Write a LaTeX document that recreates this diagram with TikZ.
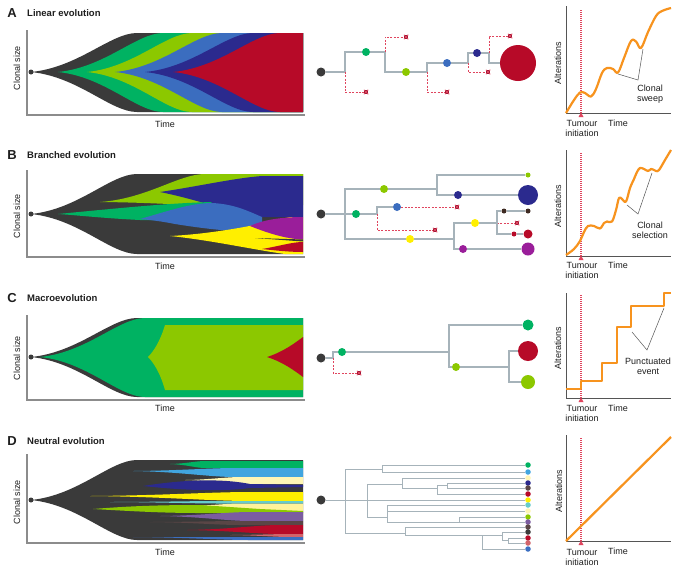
\documentclass[tikz,border=0pt]{standalone}
\usepackage{fontspec}
\setmainfont{Liberation Sans}
\usetikzlibrary{backgrounds}
\definecolor{dk}{HTML}{3A3A3A}
\definecolor{gr}{HTML}{00B262}
\definecolor{yg}{HTML}{8CC800}
\definecolor{bl}{HTML}{3B6DBF}
\definecolor{db}{HTML}{2B2A8E}
\definecolor{rd}{HTML}{B70A28}
\definecolor{ye}{HTML}{FFEF00}
\definecolor{pu}{HTML}{9A1E9A}
\definecolor{tr}{HTML}{A6B3BA}
\definecolor{dr}{HTML}{E0455E}
\definecolor{xd}{HTML}{8A1030}
\definecolor{orc}{HTML}{F7931E}
\definecolor{ax}{HTML}{8C8C8C}
\definecolor{ch}{HTML}{555555}
\definecolor{txt}{HTML}{1E1E1E}
\definecolor{lb}{HTML}{41A5DF}
\definecolor{cr}{HTML}{FFF6B5}
\definecolor{cy}{HTML}{66CCCC}
\definecolor{py}{HTML}{FFF29A}
\definecolor{pm}{HTML}{7B5CA0}
\definecolor{bw}{HTML}{5A4646}
\definecolor{bt}{HTML}{3E2A22}
\definecolor{sa}{HTML}{D2646A}
\definecolor{blt}{HTML}{3B6FC2}
\newcommand\clonelens[6]{\fill[#1] (#2,#3) .. controls ({#2+0.45*(#4-#2)},{#3+0.12*(#5-#3)}) and ({#2+0.75*(#4-#2)},#5) .. (#4,#5) -- (303,#5) -- (303,#6) -- (#4,#6) .. controls ({#2+0.75*(#4-#2)},#6) and ({#2+0.45*(#4-#2)},{#3+0.12*(#6-#3)}) .. cycle;}
\begin{document}
\begin{tikzpicture}[x=1pt,y=-1pt,
  lab/.style={font=\fontsize{9}{10}\selectfont, text=txt, inner sep=0pt},
  ttl/.style={font=\bfseries\fontsize{9.5}{11}\selectfont, text=txt, anchor=west, inner sep=0pt},
  letter/.style={font=\bfseries\fontsize{13}{14}\selectfont, text=txt, inner sep=0pt},
  fishaxis/.style={draw=ax, line width=1.4pt},
  chaxis/.style={draw=ch, line width=0.9pt},
  init/.style={draw=dr, line width=1.2pt, dash pattern=on 1pt off 1pt},
  orangec/.style={draw=orc, line width=2.2pt, line join=round},
  pointer/.style={draw=ch, line width=0.5pt},
  tree/.style={draw=tr, line width=1.1pt},
  dead/.style={draw=dr, line width=0.8pt, dash pattern=on 2pt off 1.4pt},
  dot/.style={circle, inner sep=0pt, minimum size=#1},
  xm/.style={rectangle, fill=xd, minimum size=4.5pt, inner sep=0pt,
    path picture={\draw[dr, line width=0.8pt] (path picture bounding box.north west) -- (path picture bounding box.south east) (path picture bounding box.north east) -- (path picture bounding box.south west);}}
]
\useasboundingbox (0,0) rectangle (685,574);
\begin{scope}[on background layer]
\fill[white] (0,0) rectangle (685,574);
\end{scope}

% ---------------- titles ----------------
\node[letter] (LA) at (12,13) {A};
\node[ttl] (TA) at (27,13) {Linear evolution};
\node[letter] (LB) at (12,155) {B};
\node[ttl] (TB) at (27,155) {Branched evolution};
\node[letter] (LC) at (12,298) {C};
\node[ttl] (TC) at (27,298) {Macroevolution};
\node[letter] (LD) at (12,441) {D};
\node[ttl] (TD) at (27,441) {Neutral evolution};

% ---------------- Fish A ----------------
\clonelens{dk}{31}{72}{137}{33}{112}
\clonelens{gr}{58}{72}{163}{33}{112}
\clonelens{yg}{87}{72}{192}{33}{112}
\clonelens{bl}{115}{72}{222}{33}{112}
\clonelens{db}{145}{72}{253}{33}{112}
\clonelens{rd}{173}{72}{280}{33}{112}
\draw[fishaxis] (27,30) -- (27,115) -- (305,115);
\node[dot=5pt, fill=dk] (sA) at (31,72) {};
\node[lab, rotate=90] (csA) at (17,68) {Clonal size};
\node[lab] (tA) at (165,124) {Time};

% ---------------- Fish B ----------------
\clonelens{dk}{31}{214}{137}{174}{254}
\clonelens{yg}{100}{202}{205}{174}{205}
\fill[db] (160,192) .. controls (200,186) and (235,178) .. (262,176) -- (303,176) -- (303,217) -- (262,217) .. controls (235,214) and (200,200) .. cycle;
\fill[gr] (58,214) .. controls (120,208) and (170,203) .. (212,202) .. controls (200,212) and (170,222) .. (140,220) .. controls (100,218) and (75,215) .. cycle;
\fill[bl] (140,219) .. controls (165,212) and (190,203) .. (212,203) .. controls (235,204) and (250,212) .. (262,217) -- (262,232) .. controls (230,232) and (200,228) .. (175,224) .. controls (160,221) and (150,220) .. cycle;
\fill[ye] (170,236) .. controls (210,234) and (255,226) .. (290,217) -- (303,217) -- (303,254) -- (285,254) .. controls (255,250) and (210,240) .. cycle;
\fill[pu] (250,226) .. controls (265,219) and (285,217) .. (303,217) -- (303,239.5) .. controls (285,239) and (265,232) .. cycle;
\fill[dk] (255,238) -- (303,239.5) -- (303,241.5) -- cycle;
\fill[rd] (262,249) .. controls (280,246) and (292,242) .. (303,242) -- (303,252) .. controls (292,252) and (280,251) .. cycle;
\draw[fishaxis] (27,170) -- (27,257) -- (305,257);
\node[dot=5pt, fill=dk] (sB) at (31,214) {};
\node[lab, rotate=90] (csB) at (17,216) {Clonal size};
\node[lab] (tB) at (165,266) {Time};

% ---------------- Fish C ----------------
\clonelens{dk}{31}{357}{137}{318}{397}
\clonelens{gr}{40}{357}{145}{318}{397}
\fill[yg] (165,325) .. controls (160,342) and (153,352) .. (148,357) .. controls (153,362) and (160,372) .. (165,390) -- (303,390) -- (303,325) -- cycle;
\fill[rd] (267,357) .. controls (283,352) and (295,343) .. (303,337) -- (303,377) .. controls (295,371) and (283,362) .. cycle;
\draw[fishaxis] (27,315) -- (27,400) -- (305,400);
\node[dot=5pt, fill=dk] (sC) at (31,357) {};
\node[lab, rotate=90] (csC) at (17,358) {Clonal size};
\node[lab] (tC) at (165,408) {Time};

% ---------------- Fish D ----------------
\clonelens{dk}{31}{500}{137}{460}{540}
\clonelens{gr}{170}{464}{205}{461}{468}
\clonelens{lb}{133}{471}{235}{468}{477}
\clonelens{cr}{185}{480}{240}{477}{484}
\fill[db] (143,486) .. controls (180,480) and (220,478) .. (250,484) -- (303,485) -- (303,487) -- (250,488) .. controls (220,492) and (180,490) .. cycle;
\clonelens{ye}{90}{496}{250}{492}{501}
\clonelens{cy}{110}{502}{220}{501}{503.5}
\clonelens{py}{185}{506}{240}{503.5}{511}
\fill[yg] (93,509) .. controls (130,506) and (160,505) .. (200,505) -- (260,509) -- (303,511) -- (303,513) -- (200,513) .. controls (160,513) and (130,511) .. cycle;
\clonelens{pm}{160}{516}{250}{512}{521}
\clonelens{bw}{150}{522}{240}{521}{525}
\clonelens{rd}{187}{530}{280}{525}{534}
\clonelens{sa}{230}{535}{290}{534}{537}
\clonelens{blt}{133}{537}{250}{537}{540}
\draw[fishaxis] (27,454) -- (27,543) -- (305,543);
\node[dot=5pt, fill=dk] (sD) at (31,500) {};
\node[lab, rotate=90] (csD) at (17,502) {Clonal size};
\node[lab] (tD) at (165,552) {Time};

% ---------------- Tree A ----------------
\node[dot=9pt, fill=dk] (rA) at (321,72) {};
\coordinate (jA1) at (345,72);
\node[dot=8pt, fill=gr] (gA) at (366,52) {};
\node[xm] (xA1) at (366,92) {};
\coordinate (jA2) at (385,52);
\node[xm] (xA2) at (406,37) {};
\node[dot=8pt, fill=yg] (ygA) at (406,72) {};
\coordinate (jA3) at (427,72);
\node[xm] (xA3) at (447,92) {};
\node[dot=8pt, fill=bl] (bA) at (447,63) {};
\coordinate (jA4) at (468,63);
\node[dot=8pt, fill=db] (dbA) at (477,53) {};
\node[xm] (xA4) at (488,72) {};
\coordinate (jA5) at (489,53);
\node[xm] (xA5) at (510,36) {};
\node[dot=36pt, fill=rd] (rdA) at (518,63) {};
\begin{scope}[on background layer]
\draw[tree] (rA) -- (jA1) |- (gA);
\draw[tree] (gA) -- (jA2) |- (ygA);
\draw[tree] (ygA) -- (jA3) |- (bA);
\draw[tree] (bA) -- (jA4) |- (dbA);
\draw[tree] (dbA) -- (jA5) |- (rdA);
\draw[dead] (jA1) |- (xA1);
\draw[dead] (jA2) |- (xA2);
\draw[dead] (jA3) |- (xA3);
\draw[dead] (jA4) |- (xA4);
\draw[dead] (jA5) |- (xA5);
\end{scope}

% ---------------- Tree B ----------------
\node[dot=9pt, fill=dk] (rB) at (321,214) {};
\coordinate (jB1) at (345,214);
\node[dot=8pt, fill=yg] (ygB) at (384,189) {};
\coordinate (jB2) at (437,189);
\node[dot=5pt, fill=yg] (ygB2) at (528,175) {};
\node[dot=8pt, fill=db] (dbB) at (458,195) {};
\node[dot=20pt, fill=db] (dbB2) at (528,195) {};
\node[dot=8pt, fill=gr] (gB) at (356,214) {};
\coordinate (jB3) at (377,214);
\node[dot=8pt, fill=bl] (bB) at (397,207) {};
\node[xm] (xB1) at (457,207) {};
\node[xm] (xB2) at (435,230) {};
\node[dot=8pt, fill=ye] (yB) at (410,239) {};
\coordinate (jB4) at (454,239);
\node[dot=8pt, fill=ye] (yB2) at (475,223) {};
\coordinate (jB5) at (497,223);
\node[dot=5pt, fill=bt] (brB1) at (504,211) {};
\node[dot=5pt, fill=bt] (brB2) at (528,211) {};
\node[xm] (xB3) at (517,223) {};
\node[dot=5pt, fill=rd] (rdB1) at (514,234) {};
\node[dot=9pt, fill=rd] (rdB2) at (528,234) {};
\node[dot=8pt, fill=pu] (puB1) at (463,249) {};
\node[dot=13pt, fill=pu] (puB2) at (528,249) {};
\begin{scope}[on background layer]
\draw[tree] (rB) -- (jB1) -- (gB) -- (jB3);
\draw[tree] (jB1) |- (ygB);
\draw[tree] (jB1) |- (yB);
\draw[tree] (ygB) -- (jB2) |- (ygB2);
\draw[tree] (jB2) |- (dbB);
\draw[tree] (dbB) -- (dbB2);
\draw[tree] (jB3) |- (bB);
\draw[dead] (bB) -- (xB1);
\draw[dead] (jB3) |- (xB2);
\draw[tree] (yB) -- (jB4) |- (yB2);
\draw[tree] (yB2) -- (jB5) |- (brB1);
\draw[tree] (brB1) -- (brB2);
\draw[dead] (jB5) -- (xB3);
\draw[tree] (jB5) |- (rdB1);
\draw[tree] (rdB1) -- (rdB2);
\draw[tree] (jB4) |- (puB1);
\draw[tree] (puB1) -- (puB2);
\end{scope}

% ---------------- Tree C ----------------
\node[dot=9pt, fill=dk] (rC) at (321,358) {};
\coordinate (jC1) at (333,358);
\node[dot=8pt, fill=gr] (gC) at (342,352) {};
\node[xm] (xC) at (359,373) {};
\coordinate (jC2) at (449,352);
\node[dot=11pt, fill=gr] (gC2) at (528,325) {};
\node[dot=8pt, fill=yg] (ygC) at (456,367) {};
\coordinate (jC3) at (509,367);
\node[dot=20pt, fill=rd] (rdC) at (528,351) {};
\node[dot=14pt, fill=yg] (ygC2) at (528,382) {};
\begin{scope}[on background layer]
\draw[tree] (rC) -- (jC1) |- (gC);
\draw[tree] (gC) -- (jC2) |- (gC2);
\draw[tree] (jC2) |- (ygC);
\draw[tree] (ygC) -- (jC3) |- (rdC);
\draw[tree] (jC3) |- (ygC2);
\draw[dead] (jC1) |- (xC);
\end{scope}

% ---------------- Tree D ----------------
\node[dot=9pt, fill=dk] (rD) at (321,500) {};
\foreach \n/\y/\c in {1/465/gr,2/472/lb,3/478/cr,4/483/db,5/488/bw,6/494/rd,7/500/ye,8/505/cy,9/511/cr,10/517/yg,11/522/pm,12/527/bw,13/532/dk,14/538/rd,15/543/sa,16/549/blt}
  \node[dot=5.5pt, fill=\c] (L\n) at (528,\y) {};
\coordinate (jD1) at (345,500);
\coordinate (jD2) at (382,469);
\coordinate (jD3) at (367,500);
\coordinate (jD4) at (402,484);
\coordinate (jD6) at (437,488);
\coordinate (jD7) at (447,485.5);
\coordinate (jD5) at (387,517);
\coordinate (jD8) at (459,522);
\coordinate (jD9) at (405,533);
\coordinate (jD10) at (482,535);
\coordinate (jD11) at (502,535);
\coordinate (jD12) at (508,540);
\begin{scope}[on background layer, tree/.append style={line width=0.9pt}]
\draw[tree] (rD) -- (jD1) -- (jD3) -- (L7);
\draw[tree] (jD1) |- (jD2);
\draw[tree] (jD2) |- (L1);
\draw[tree] (jD2) |- (L2);
\draw[tree] (jD3) |- (jD4);
\draw[tree] (jD4) |- (L3);
\draw[tree] (jD4) |- (jD6);
\draw[tree] (jD6) |- (jD7);
\draw[tree] (jD6) |- (L6);
\draw[tree] (jD7) |- (L4);
\draw[tree] (jD7) |- (L5);
\draw[tree] (jD3) |- (jD5);
\draw[tree] (jD5) |- (L8);
\draw[tree] (jD5) |- (L9);
\draw[tree] (jD5) |- (jD8);
\draw[tree] (jD8) |- (L10);
\draw[tree] (jD8) -- (L11);
\draw[tree] (jD1) |- (jD9);
\draw[tree] (jD9) |- (L12);
\draw[tree] (jD9) |- (jD10);
\draw[tree] (jD10) |- (jD11);
\draw[tree] (jD10) |- (L16);
\draw[tree] (jD11) |- (L13);
\draw[tree] (jD11) |- (jD12);
\draw[tree] (jD12) |- (L14);
\draw[tree] (jD12) |- (L15);
\end{scope}

% ---------------- Chart A ----------------
\draw[init] (581,10) -- (581,113);
\draw[chaxis] (566,6) -- (566,113) -- (671,113);
\fill[dr] (578.5,117) -- (583.5,117) -- (581,112.5) -- cycle;
\draw[orangec] plot[smooth, tension=0.6] coordinates {(566,113) (574,100) (580,92.5) (585,93) (591,96.5) (596,89) (602,73) (607,68) (613,69) (618,72.5) (624,58) (631,41) (636,41.5) (641,48) (648,32) (656,16) (662,11) (671,8)};
\draw[pointer] (618,74) -- (638,80) -- (643,49);
\node[lab, rotate=90] (alA) at (558,63) {Alterations};
\node[lab, align=center] (tiA) at (582,128) {Tumour\\initiation};
\node[lab] (tmA) at (618,123) {Time};
\node[lab, align=center] (ncA) at (650,94) {Clonal\\sweep};

% ---------------- Chart B ----------------
\draw[init] (581,153) -- (581,256);
\draw[chaxis] (566,150) -- (566,256) -- (671,256);
\fill[dr] (578.5,260) -- (583.5,260) -- (581,255.5) -- cycle;
\draw[orangec] plot[smooth, tension=0.6] coordinates {(566,255) (574,249) (580,241) (584,232) (588,226) (594,226) (600,228.5) (604,223) (607,221.5) (612,221.5) (616,210) (619,198) (622,199) (626,201.5) (630,188) (634,179) (637,172) (640,168) (644,169) (648,171) (651,169) (653,169.5) (656,171) (659,170) (665,160) (671,150)};
\draw[pointer] (627,205) -- (638,214) -- (652,173);
\node[lab, rotate=90] (alB) at (558,206) {Alterations};
\node[lab, align=center] (tiB) at (582,270) {Tumour\\initiation};
\node[lab] (tmB) at (618,265) {Time};
\node[lab, align=center] (ncB) at (650,230) {Clonal\\selection};

% ---------------- Chart C ----------------
\draw[init] (581,295) -- (581,398);
\draw[chaxis] (566,293) -- (566,398) -- (671,398);
\fill[dr] (578.5,402) -- (583.5,402) -- (581,397.5) -- cycle;
\draw[orangec] (566,389) -- (581,389) -- (581,381) -- (602,381) -- (602,363) -- (617,363) -- (617,327) -- (631,327) -- (631,306) -- (664,306) -- (664,293) -- (671,293);
\draw[pointer] (632,332) -- (647,350) -- (664,308);
\node[lab, rotate=90] (alC) at (558,348) {Alterations};
\node[lab, align=center] (tiC) at (582,413) {Tumour\\initiation};
\node[lab] (tmC) at (618,408) {Time};
\node[lab, align=center] (ncC) at (648,366) {Punctuated\\event};

% ---------------- Chart D ----------------
\draw[init] (581,438) -- (581,541);
\draw[chaxis] (566,435) -- (566,541) -- (671,541);
\fill[dr] (578.5,545) -- (583.5,545) -- (581,540.5) -- cycle;
\draw[orangec] (566,541) -- (671,437);
\node[lab, rotate=90] (alD) at (559,491) {Alterations};
\node[lab, align=center] (tiD) at (582,557) {Tumour\\initiation};
\node[lab] (tmD) at (618,551) {Time};
\end{tikzpicture}
\end{document}
